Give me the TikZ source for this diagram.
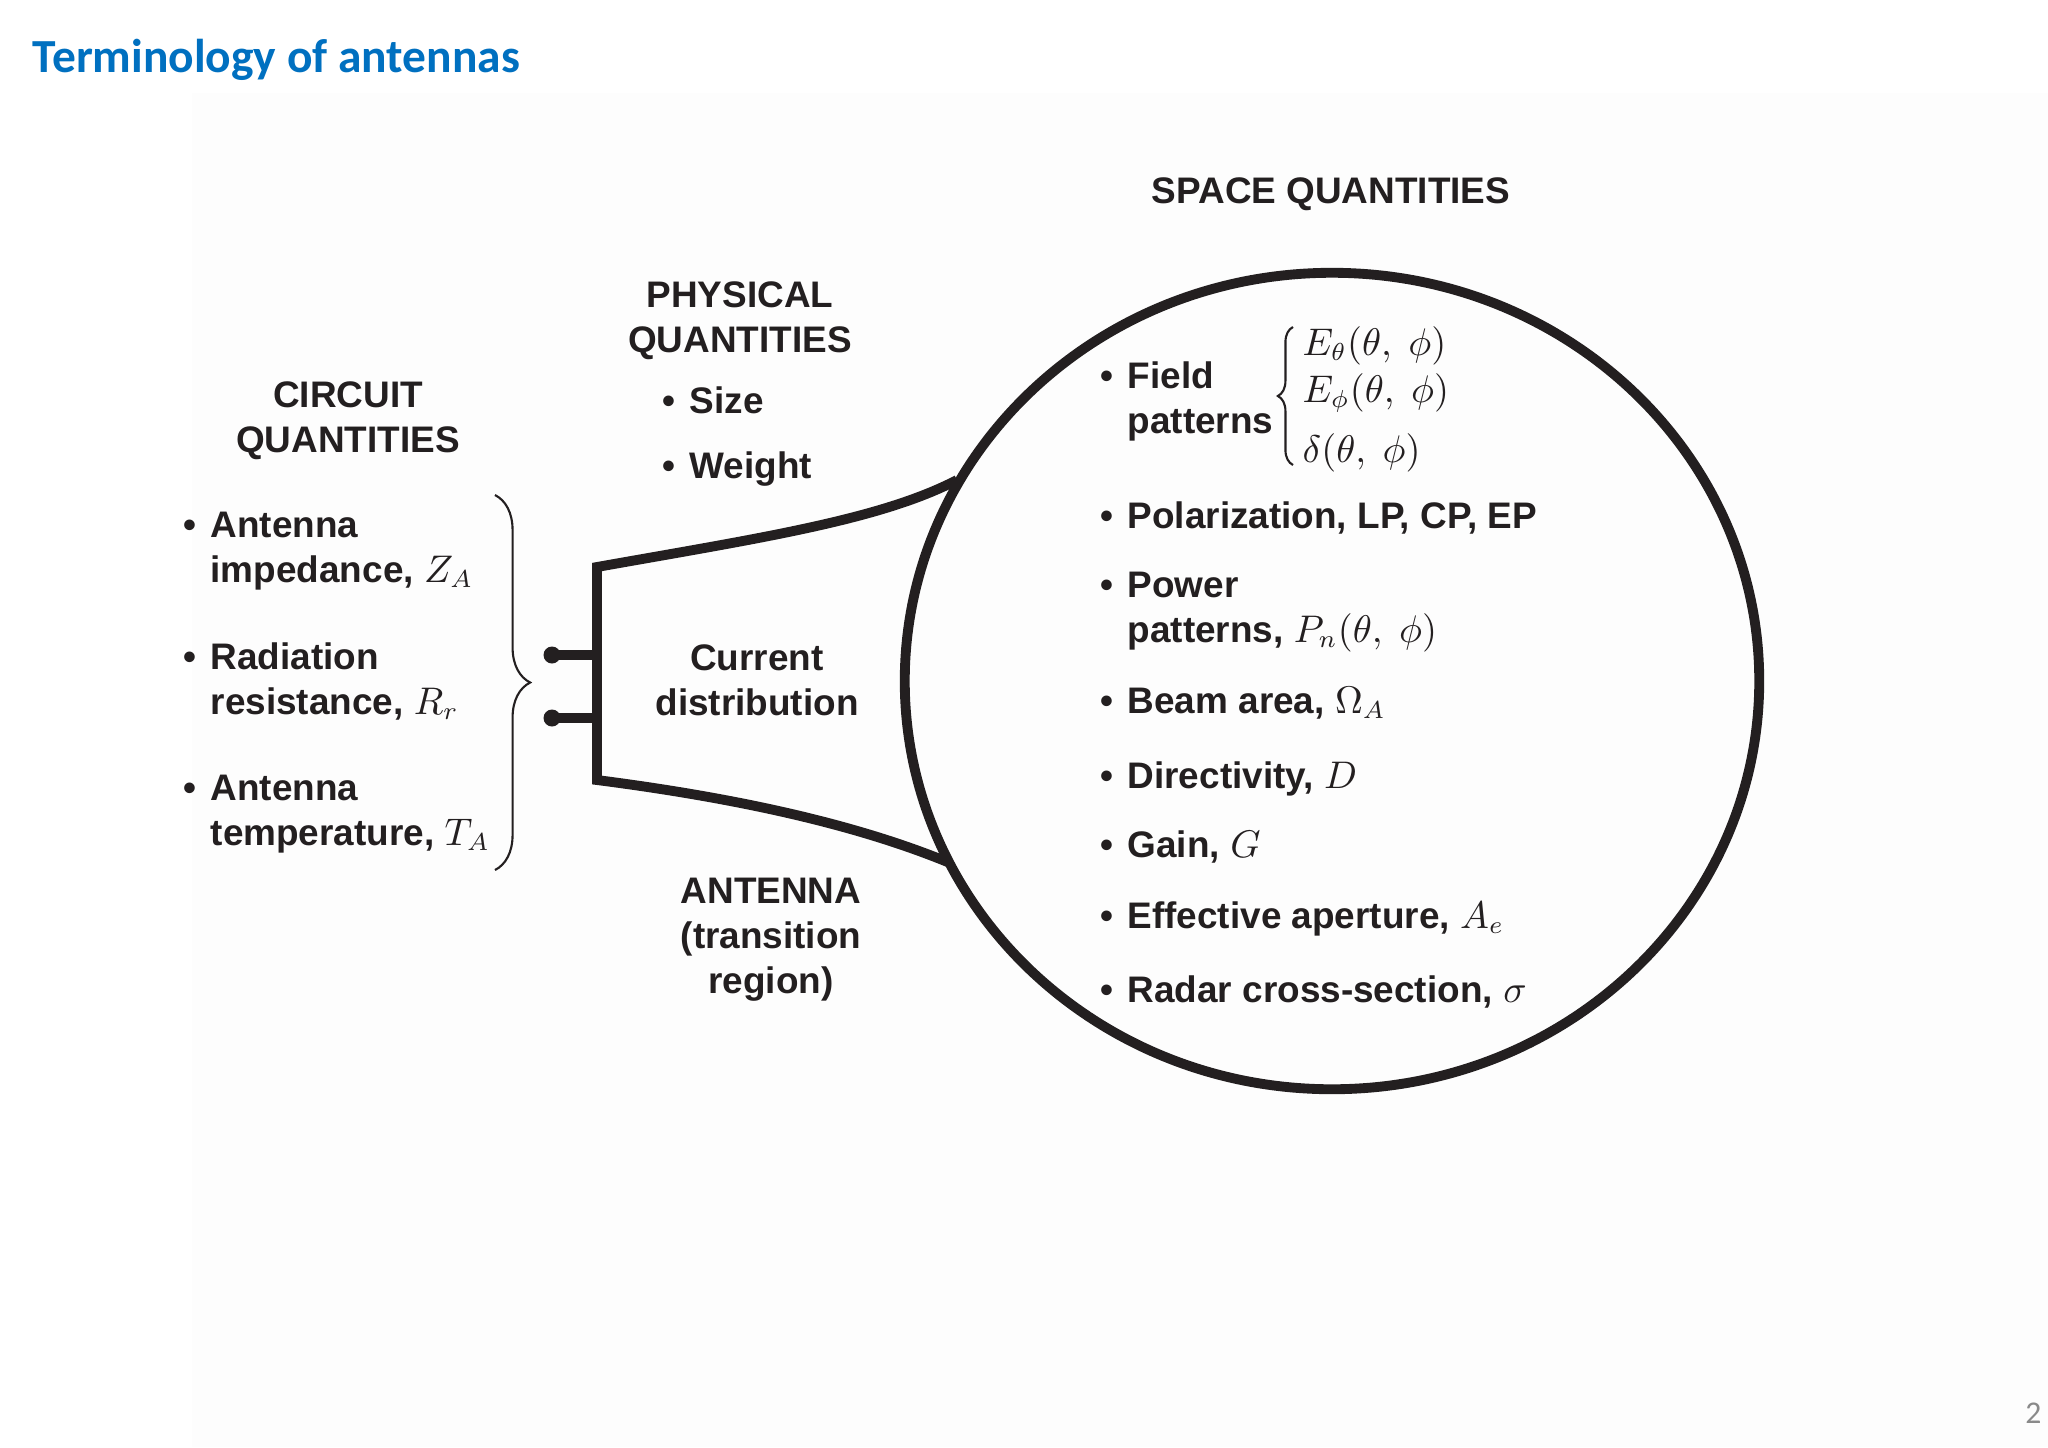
\documentclass[tikz,border=0pt]{standalone}
\usepackage{amsmath,amssymb}
\usepackage{fontspec}
\setmainfont{Liberation Sans}
\newfontfamily\titlefont{Carlito}
\usetikzlibrary{decorations.pathreplacing}
\definecolor{ink}{HTML}{231F20}
\definecolor{titleblue}{HTML}{0070C0}
\definecolor{pagegray}{HTML}{8A8A8A}
\newcommand{\bul}{\llap{\textbullet\hspace{4pt}}}

\begin{document}
\begin{tikzpicture}[x=0.01cm,y=-0.01cm,
    txt/.style={inner sep=0pt, text=ink, font=\bfseries\fontsize{10.5}{12.8}\selectfont},
    itm/.style={txt, anchor=base west, align=left},
    hd/.style={txt, anchor=base, align=center},
    mth/.style={inner sep=0pt, text=ink, anchor=base west, font=\fontsize{10.5}{12.8}\selectfont},
    heavy/.style={draw=ink, line width=2.8pt},
    curly/.style={draw=ink, line width=0.6pt, decorate}]
		\useasboundingbox (0,0) rectangle (2048,1447);
		\fill[white] (0,0) rectangle (2048,1447);
		\fill[black!0.6] (192,93) rectangle (2048,1447);
		\node[anchor=base west, inner sep=0pt, text=titleblue, font=\titlefont\bfseries\fontsize{13.5}{16}\selectfont] (title) at (32,72) {Terminology of antennas};
		\node[anchor=base east, inner sep=0pt, text=pagegray, font=\titlefont\fontsize{9}{11}\selectfont] (pgno) at (2042,1423) {2};
		% space side
		\coordinate (sc) at (1332,681);
		\draw[heavy] (sc) ellipse [x radius=4.27cm, y radius=4.08cm];
		\coordinate (jtop) at (957,480);
		\coordinate (jbot) at (950,863);
		\coordinate (ctop) at (597,567);
		\coordinate (cbot) at (597,780);
		\draw[heavy, line join=miter] (jtop) .. controls (880,520) and (760,538) .. (ctop) -- (cbot) .. controls (760,801) and (870,830) .. (jbot);
		\coordinate (feedA) at (552,655);
		\coordinate (feedB) at (552,718);
		\draw[heavy] (feedA) -- (ctop|-feedA);
		\draw[heavy] (feedB) -- (ctop|-feedB);
		\fill[ink] (feedA) circle (8.5);
		\fill[ink] (feedB) circle (8.5);
		% headings (base = last line)
		\node[hd] (sq) at (1331,203) {SPACE QUANTITIES};
		\node[hd] (pq) at (740,352) {PHYSICAL\\QUANTITIES};
		\node[hd] (cq) at (348,452) {CIRCUIT\\QUANTITIES};
		\node[hd] (cd) at (757,715) {Current\\distribution};
		\node[hd] (ant) at (771,993) {ANTENNA\\(transition\\region)};
		\node[itm] (sz) at (689,413) {\bul Size};
		\node[itm] (wt) at (689,478) {\bul Weight};
		% circuit quantities
		\node[itm] (zin) at (210,582) {\bul Antenna\\impedance, $Z_A$};
		\node[itm] (rrad) at (210,714) {\bul Radiation\\resistance, $R_r$};
		\node[itm] (tant) at (210,845) {\bul Antenna\\temperature, $T_A$};
		\draw[curly, decoration={brace, amplitude=10pt}] (495,495) -- (495,870);
		% space quantities
		\node[itm] (fld) at (1127,433) {\bul Field\\patterns};
		\draw[curly, decoration={brace, amplitude=4.3pt}] (1293,465) -- (1293,327);
		\node[mth] (etheta) at (1302,355) {$E_\theta(\theta,\ \phi)$};
		\node[mth] (ephi) at (1302,402) {$E_\phi(\theta,\ \phi)$};
		\node[mth] (dlt) at (1302,462) {$\delta(\theta,\ \phi)$};
		\node[itm] (pol) at (1127,528) {\bul Polarization, LP, CP, EP};
		\node[itm] (pow) at (1127,642) {\bul Power\\patterns, $P_n(\theta,\ \phi)$};
		\node[itm] (beam) at (1127,713) {\bul Beam area, $\Omega_A$};
		\node[itm] (dirv) at (1127,788) {\bul Directivity, $D$};
		\node[itm] (gn) at (1127,857) {\bul Gain, $G$};
		\node[itm] (aeff) at (1127,928) {\bul Effective aperture, $A_e$};
		\node[itm] (rcs) at (1127,1002) {\bul Radar cross-section, $\sigma$};
\end{tikzpicture}
\end{document}
